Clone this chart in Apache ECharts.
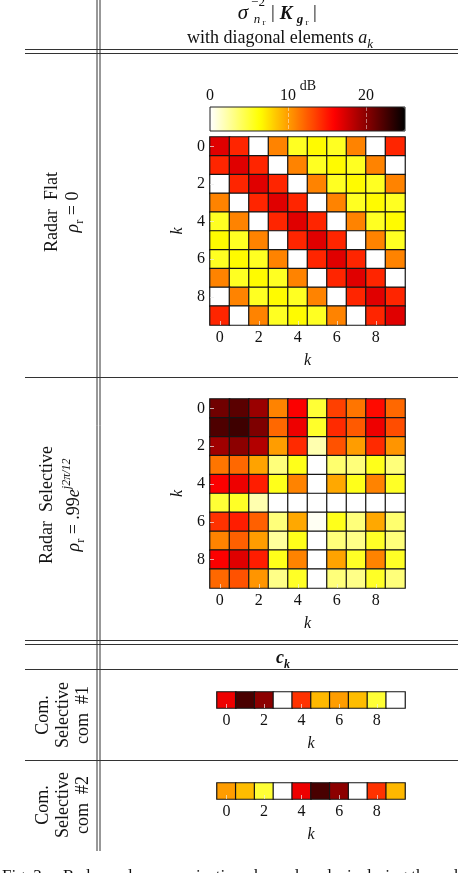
<!DOCTYPE html>
<html>
<head>
<meta charset="utf-8">
<script src="https://cdn.jsdelivr.net/npm/echarts@6/dist/echarts.min.js"></script>
<style>
  html, body { margin: 0; padding: 0; background: #fff; }
  #showChart { width: 474px; height: 873px; }
</style>
</head>
<body>
<div id="showChart"></div>
<script>
// tick labels for k
var kLabels = ['0', '1', '2', '3', '4', '5', '6', '7', '8', '9'];
var colorbarTicks = [0, 10, 20];

// Radar Flat, rho_r = 0 (dB), rows k = 0..9
var radarFlat = [
    [17, 14.5, 0, 11, 5.5, 6.5, 5.5, 11, 0, 14.5],
    [14.5, 17, 14.5, 0, 11, 5.5, 6.5, 5.5, 11, 0],
    [0, 14.5, 17, 14.5, 0, 11, 5.5, 6.5, 5.5, 11],
    [11, 0, 14.5, 17, 14.5, 0, 11, 5.5, 6.5, 5.5],
    [5.5, 11, 0, 14.5, 17, 14.5, 0, 11, 5.5, 6.5],
    [6.5, 5.5, 11, 0, 14.5, 17, 14.5, 0, 11, 5.5],
    [5.5, 6.5, 5.5, 11, 0, 14.5, 17, 14.5, 0, 11],
    [11, 5.5, 6.5, 5.5, 11, 0, 14.5, 17, 14.5, 0],
    [0, 11, 5.5, 6.5, 5.5, 11, 0, 14.5, 17, 14.5],
    [14.5, 0, 11, 5.5, 6.5, 5.5, 11, 0, 14.5, 17]
];

// Radar Selective, rho_r = .99 e^{j2pi/12} (dB)
var radarSelective = [
    [21, 21.8, 19.5, 11, 16, 5, 13.5, 11.5, 15.5, 12],
    [22.2, 22.8, 20.5, 12, 16.5, 5.3, 14.3, 12.5, 16.5, 13],
    [19.3, 20, 18.6, 10, 14.3, 2, 12.8, 10, 14.3, 10.3],
    [11.5, 12, 9.8, 3.3, 5.7, 0, 3.6, 3.3, 5.7, 3.3],
    [16, 16.5, 14.8, 5.7, 11, 0, 9.6, 5.7, 11, 5.4],
    [5, 5.4, 2, 0, 0, 0, 0, 0, 0, 0],
    [14, 14.8, 12.3, 3.3, 9.6, 0.3, 5.7, 3.3, 9.6, 3.6],
    [11, 12.3, 10, 2.5, 5.7, 0, 3.3, 3, 5.4, 3.3],
    [16, 17, 14.8, 5.7, 11, 0, 9.8, 5.4, 11, 5.4],
    [12, 12.8, 10.3, 3, 5.4, 0, 3.3, 3, 5.4, 3.3]
];

// c_k for the two communication cases (dB)
var comSelective1 = [16.5, 22.4, 20, 0, 14, 9, 10, 8.8, 5, 0];
var comSelective2 = [10, 8.8, 5, 0, 16.5, 22.4, 20, 0, 14, 9];

var serif = 'Liberation Serif';

// reversed "hot" colormap
function hotR(t) {
    var s = 1 - t;
    var cl = function (v) { return Math.max(0, Math.min(1, v)); };
    var r = cl(s / 0.365), g = cl((s - 0.365) / 0.381), b = cl((s - 0.746) / 0.254);
    return 'rgb(' + Math.round(r * 255) + ',' + Math.round(g * 255) + ',' + Math.round(b * 255) + ')';
}
var hotColors = [];
for (var i = 0; i <= 50; i++) hotColors.push(hotR(i / 50));

function matrixData(m) {
    var out = [];
    m.forEach(function (row, r) {
        row.forEach(function (v, c) { out.push([c, r, v]); });
    });
    return out;
}
function rowData(arr) {
    return arr.map(function (v, c) { return [c, 0, v]; });
}

function kAxis(idx, gap, withName) {
    return {
        type: 'category', gridIndex: idx, data: kLabels, z: 10,
        axisLine: { show: false },
        axisTick: { show: true, inside: true, length: 4, alignWithLabel: true, interval: 1,
                    lineStyle: { color: 'rgba(235,235,235,0.7)' } },
        axisLabel: { interval: 1, color: '#111', fontFamily: serif, fontSize: 16, margin: 5 },
        name: withName ? 'k' : '', nameLocation: 'middle', nameGap: gap,
        nameTextStyle: { fontFamily: serif, fontStyle: 'italic', fontSize: 16, color: '#111' }
    };
}
function kAxisY(idx) {
    var a = kAxis(idx, 24, true);
    a.inverse = true;
    a.nameRotate = 90;
    return a;
}
function hiddenY(idx) {
    return { type: 'category', gridIndex: idx, data: [''], show: false };
}

var cellStyle = { borderColor: '#151515', borderWidth: 1.2 };

function hline(y) {
    return { type: 'line', shape: { x1: 25, y1: y, x2: 458, y2: y }, style: { stroke: '#333', lineWidth: 1 }, z: 50 };
}
function vline(x) {
    return { type: 'line', shape: { x1: x, y1: 0, x2: x, y2: 851 }, style: { stroke: '#333', lineWidth: 1 }, z: 50 };
}
function txt(x, y, text, size, opts) {
    var st = { text: text, fontFamily: serif, fontSize: size, fill: '#111', align: 'center', verticalAlign: 'middle' };
    if (opts && opts.style) for (var key in opts.style) st[key] = opts.style[key];
    var el = { type: 'text', x: x, y: y, style: st, z: 60 };
    if (opts && opts.rot) el.rotation = Math.PI / 2;
    return el;
}
var richMath = {
    n: { fontFamily: serif, fontSize: 18, color: '#111' },
    i: { fontFamily: serif, fontSize: 18, fontStyle: 'italic', color: '#111' },
    s: { fontFamily: serif, fontSize: 12, color: '#111', verticalAlign: 'bottom', lineHeight: 26 },
    si: { fontFamily: serif, fontSize: 13, fontStyle: 'italic', color: '#111', verticalAlign: 'bottom', lineHeight: 26 },
    p: { fontFamily: serif, fontSize: 12, fontStyle: 'italic', color: '#111', verticalAlign: 'top', lineHeight: 26 }
};

var option = {
    animation: false,
    backgroundColor: '#fff',
    grid: [
        { left: 210, top: 107, width: 195, height: 24 },
        { left: 210, top: 137, width: 195, height: 188 },
        { left: 210, top: 399, width: 195, height: 189 },
        { left: 217, top: 692, width: 188, height: 16 },
        { left: 217, top: 783, width: 188, height: 16 }
    ],
    xAxis: [
        { type: 'value', gridIndex: 0, min: 0, max: 25, interval: 10, position: 'top', z: 10,
          axisLine: { show: false }, axisTick: { show: false },
          axisLabel: { color: '#111', fontFamily: serif, fontSize: 16, margin: 3, showMaxLabel: false,
                       formatter: function (v) { return colorbarTicks.indexOf(v) >= 0 ? String(v) : ''; } },
          splitLine: { show: true, lineStyle: { color: 'rgba(255,255,255,0.45)', type: 'dashed' } } },
        kAxis(1, 28, true),
        kAxis(2, 28, true),
        kAxis(3, 28, true),
        kAxis(4, 28, true)
    ],
    yAxis: [
        { type: 'value', gridIndex: 0, min: 0, max: 1, show: false },
        kAxisY(1),
        kAxisY(2),
        hiddenY(3),
        hiddenY(4)
    ],
    visualMap: {
        type: 'continuous', min: 0, max: 25, orient: 'horizontal',
        left: 210, top: 107, itemWidth: 24, itemHeight: 195, padding: 0,
        calculable: false, text: null, seriesIndex: [0, 1, 2, 3],
        inRange: { color: hotColors }
    },
    series: [
        { type: 'heatmap', xAxisIndex: 1, yAxisIndex: 1, data: matrixData(radarFlat), itemStyle: cellStyle, emphasis: { disabled: true } },
        { type: 'heatmap', xAxisIndex: 2, yAxisIndex: 2, data: matrixData(radarSelective), itemStyle: cellStyle, emphasis: { disabled: true } },
        { type: 'heatmap', xAxisIndex: 3, yAxisIndex: 3, data: rowData(comSelective1), itemStyle: cellStyle, emphasis: { disabled: true } },
        { type: 'heatmap', xAxisIndex: 4, yAxisIndex: 4, data: rowData(comSelective2), itemStyle: cellStyle, emphasis: { disabled: true } }
    ],
    graphic: [
        // table rules
        vline(97), vline(100),
        hline(49.5), hline(53.5), hline(377.5), hline(640.5), hline(644.5), hline(669.5), hline(760.5),
        // colorbar frame and unit
        { type: 'rect', shape: { x: 210, y: 107, width: 195, height: 24 }, style: { fill: 'none', stroke: '#222', lineWidth: 1 }, z: 60 },
        txt(308, 86, 'dB', 14),
        // header
        txt(243, 13, 'σ', 21, { style: { fontStyle: 'italic' } }),
        txt(258, 3, '−2', 13),
        txt(257, 20, 'n', 13, { style: { fontStyle: 'italic' } }),
        txt(264, 23, 'r', 9),
        txt(273, 13, '|', 19),
        txt(286, 14, 'K', 19, { style: { fontStyle: 'italic', fontWeight: 'bold' } }),
        txt(300, 20, 'g', 13, { style: { fontStyle: 'italic', fontWeight: 'bold' } }),
        txt(307, 23, 'r', 9),
        txt(315, 13, '|', 19),
        txt(280, 38, '{n|with diagonal elements }{i|a}{si|k}', 18, { style: { rich: richMath } }),
        txt(283, 658, '{i|c}{si|k}', 18, { style: { rich: {
            i: { fontFamily: serif, fontSize: 18, fontStyle: 'italic', fontWeight: 'bold', color: '#111' },
            si: { fontFamily: serif, fontSize: 12, fontStyle: 'italic', fontWeight: 'bold', color: '#111', verticalAlign: 'bottom', lineHeight: 26 }
        } } }),
        // row labels
        txt(52, 212, 'Radar  Flat', 18, { rot: true }),
        txt(73, 212, '{i|ρ}{s|r}{n| = 0}', 18, { rot: true, style: { rich: richMath } }),
        txt(47, 505, 'Radar  Selective', 18, { rot: true }),
        txt(74, 505, '{i|ρ}{s|r}{n| = .99}{i|e}{p|j2π/12}', 18, { rot: true, style: { rich: richMath } }),
        txt(43, 715, 'Com.', 18, { rot: true }),
        txt(63, 715, 'Selective', 18, { rot: true }),
        txt(83, 715, 'com  #1', 18, { rot: true }),
        txt(43, 805, 'Com.', 18, { rot: true }),
        txt(63, 805, 'Selective', 18, { rot: true }),
        txt(83, 805, 'com  #2', 18, { rot: true }),
        // caption, cut at the bottom edge
        { type: 'text', x: 2, y: 868, z: 60, style: { text: 'Fig. 3.    Radar and communication channel analysis during the radar and comm', fontFamily: serif, fontSize: 17, fill: '#111', align: 'left', verticalAlign: 'top' } }
    ]
};

var chart = echarts.init(document.getElementById('showChart'));
chart.setOption(option);
</script>
</body>
</html>
